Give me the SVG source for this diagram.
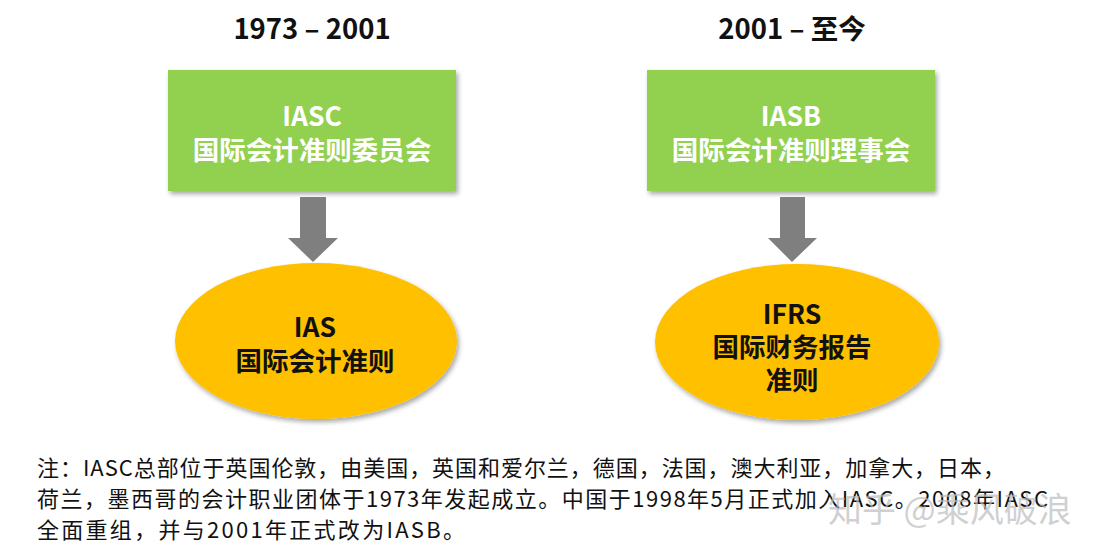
<svg xmlns="http://www.w3.org/2000/svg" width="1101" height="555" viewBox="0 0 1101 555">
<style>
.title{font-family:"Noto Sans CJK SC","Open Sans",sans-serif;font-weight:bold;font-size:27.5px;fill:#111;text-anchor:middle}
.box{fill:#92D050}
.boxt{font-family:"Noto Sans CJK SC","Open Sans",sans-serif;font-weight:bold;font-size:26.5px;fill:#fff;text-anchor:middle}
.ell{fill:#FFC000}
.ellt{font-family:"Noto Sans CJK SC","Open Sans",sans-serif;font-weight:bold;font-size:26.5px;fill:#111;text-anchor:middle}
.arrow{fill:#7F7F7F}
.note{font-family:"Noto Sans CJK SC","Open Sans",sans-serif;font-size:22px;fill:#111}
.wm{font-family:"Noto Sans CJK SC",sans-serif;font-size:34px;fill:#bbbbbb;fill-opacity:0.7}
</style>
<defs>
<filter id="sh" x="-10%" y="-10%" width="125%" height="130%">
<feGaussianBlur in="SourceAlpha" stdDeviation="2.5"/>
<feOffset dx="2" dy="3" result="b"/>
<feComponentTransfer><feFuncA type="linear" slope="0.35"/></feComponentTransfer>
<feMerge><feMergeNode/><feMergeNode in="SourceGraphic"/></feMerge>
</filter>
</defs>
<rect width="1101" height="555" fill="#fff"/>
<text class="title" x="312" y="39">1973 – 2001</text>
<text class="title" x="792" y="39">2001 – 至今</text>
<g id="iasc">
<rect class="box" x="168" y="70" width="288" height="121" filter="url(#sh)"/>
<text class="boxt" x="312" y="126">IASC</text>
<text class="boxt" x="312" y="160">国际会计准则委员会</text>
</g>
<g id="iasb">
<rect class="box" x="647" y="70" width="288" height="121" filter="url(#sh)"/>
<text class="boxt" x="791" y="126">IASB</text>
<text class="boxt" x="791" y="160">国际会计准则理事会</text>
</g>
<g id="connectors">
<polygon class="arrow" points="300,197 326,197 326,238 338,238 313,262 288,238 300,238"/>
<polygon class="arrow" points="780,197 805,197 805,238 817,238 792,262 768,238 780,238"/>
</g>
<g id="ias">
<ellipse class="ell" cx="316" cy="341" rx="141" ry="78" filter="url(#sh)"/>
<text class="ellt" x="315" y="337">IAS</text>
<text class="ellt" x="315" y="371">国际会计准则</text>
</g>
<g id="ifrs">
<ellipse class="ell" cx="797" cy="342" rx="142" ry="78" filter="url(#sh)"/>
<text class="ellt" x="792" y="324">IFRS</text>
<text class="ellt" x="792" y="357">国际财务报告</text>
<text class="ellt" x="792" y="390">准则</text>
</g>
<text class="note" x="37" y="476" textLength="968" lengthAdjust="spacing">注：IASC总部位于英国伦敦，由美国，英国和爱尔兰，德国，法国，澳大利亚，加拿大，日本，</text>
<text class="note" x="37" y="507" textLength="1011" lengthAdjust="spacing">荷兰，墨西哥的会计职业团体于1973年发起成立。中国于1998年5月正式加入IASC。2008年IASC</text>
<text class="note" x="37" y="538" textLength="428" lengthAdjust="spacing">全面重组，并与2001年正式改为IASB。</text>
<text class="wm" x="828" y="522">知乎 @乘风破浪</text>
</svg>
